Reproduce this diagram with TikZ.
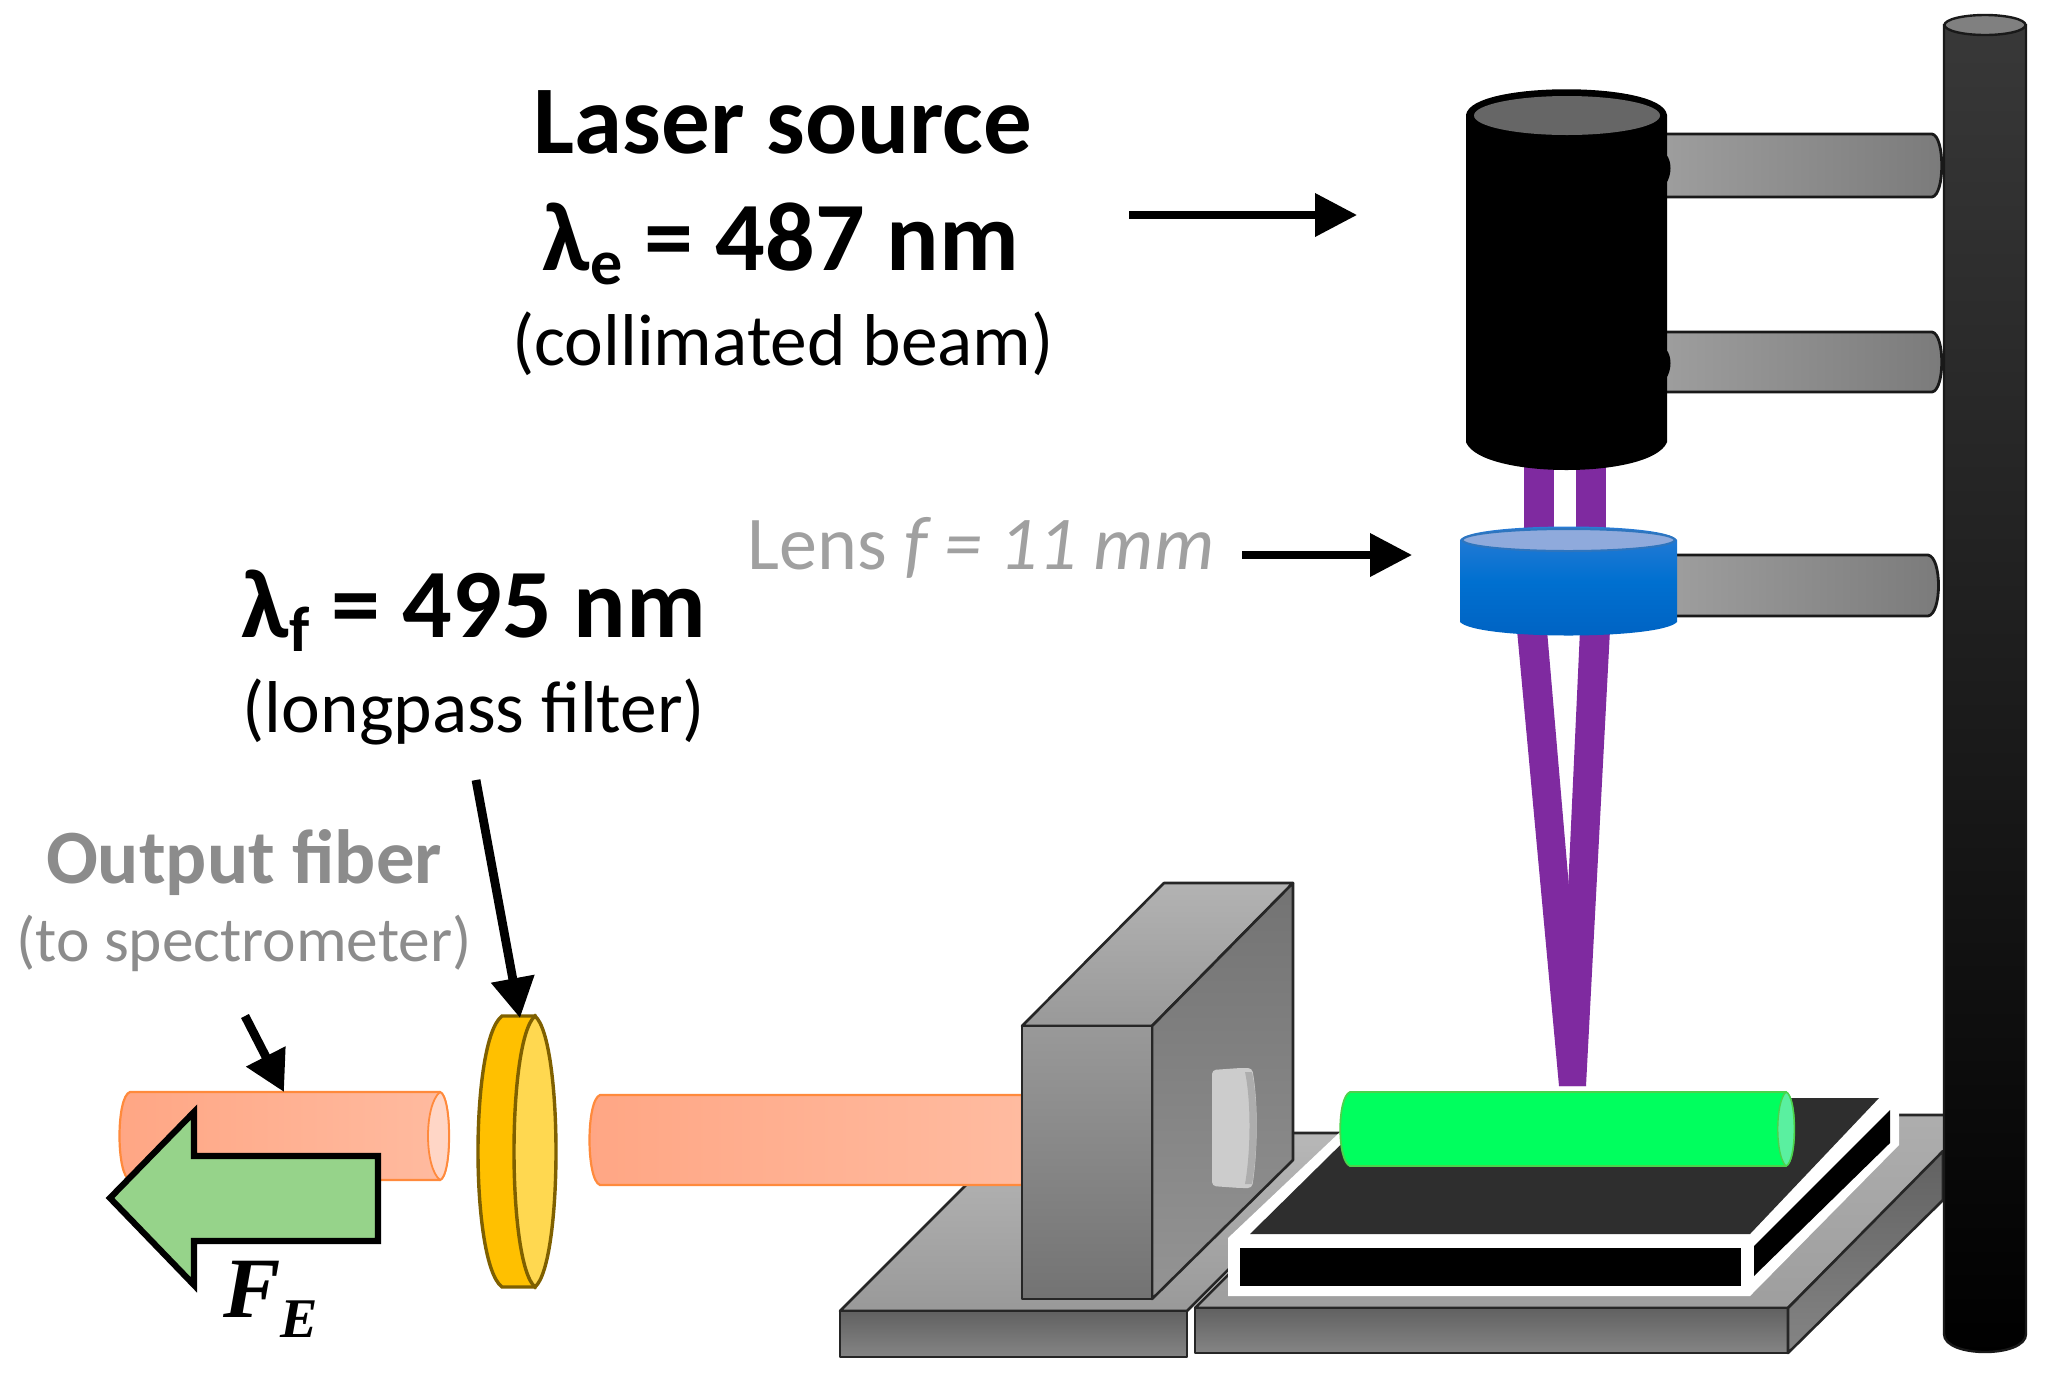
\documentclass[tikz,border=0pt]{standalone}
\usepackage{fontspec}
\setmainfont{Carlito}
\newfontfamily\fefont{Liberation Serif}
\usetikzlibrary{arrows.meta}
\definecolor{beam}{HTML}{7F2AA0}
\definecolor{orangeedge}{HTML}{FF8A3C}
\definecolor{textgray}{HTML}{8C8C8C}
\definecolor{lensgray}{HTML}{A0A0A0}
\definecolor{filteredge}{HTML}{7F6000}
\definecolor{fibL}{HTML}{FFA684}
\definecolor{fibR}{HTML}{FFBBA0}
\tikzset{
  every node/.style={inner sep=0pt,outer sep=0pt,anchor=base},
  big/.style={font=\fontsize{49}{56}\selectfont\bfseries},
  small/.style={font=\fontsize{36.7}{42}\selectfont},
  part/.style={draw=black!85,line width=1.3pt,line join=round},
  arm/.style={draw=black!90,line width=1.4pt,left color=black!38,right color=black!52},
  beamfill/.style={fill=beam},
  pointer/.style={line width=3.6pt,-{Triangle[length=21pt,width=21pt]}},
  pointerb/.style={line width=4.4pt,-{Triangle[length=20pt,width=21pt]}},
}
\begin{document}
\begin{tikzpicture}[x=0.5pt,y=-0.5pt]
\useasboundingbox (0,0) rectangle (2046,1372);

% --- bases
\path[part,top color=black!32,bottom color=black!38] (1195,1308)--(1788,1308)--(1981,1115)--(1388,1115)--cycle;
\path[part,top color=black!62,bottom color=black!48] (1195,1308)--(1788,1308)--(1788,1353)--(1195,1353)--cycle;
\path[part,top color=black!62,bottom color=black!48] (1788,1308)--(1943,1151)--(1943,1200)--(1788,1353)--cycle;
\path[part,top color=black!28,bottom color=black!40] (840,1311)--(1187,1311)--(1365,1133)--(1018,1133)--cycle;
\path[part,top color=black!62,bottom color=black!48] (840,1311)--(1187,1311)--(1187,1357)--(840,1357)--cycle;

% --- sample plate
\fill[white] (1228,1296)--(1750,1296)--(1899,1145)--(1899,1098)--(1376,1098)--(1228,1238)--cycle;
\fill[black!82] (1250,1234)--(1750,1234)--(1879,1098)--(1388,1098)--cycle;
\fill[black] (1240,1248)--(1741,1248)--(1741,1286)--(1240,1286)--cycle;
\fill[black] (1754,1246)--(1890,1110)--(1890,1143)--(1754,1276)--cycle;

% --- orange light, filter side
\path[draw=orangeedge,line width=1.1pt,left color=fibL,right color=fibR]
  (1022,1095)--(600,1095) .. controls (586,1100) and (586,1180) .. (600,1185)--(1022,1185)--cycle;

% --- box
\path[part,top color=black!30,bottom color=black!40] (1022,1026)--(1152,1026)--(1293,883)--(1164,883)--cycle;
\path[part,top color=black!55,bottom color=black!42] (1152,1026)--(1293,883)--(1293,1160)--(1152,1299)--cycle;
\path[part,top color=black!40,bottom color=black!55] (1022,1026)--(1152,1026)--(1152,1299)--(1022,1299)--cycle;
\fill[black!20,rounded corners=2pt] (1212,1070)--(1240,1068)--(1252,1068) .. controls (1258,1100) and (1258,1150) .. (1252,1188)--(1240,1188)--(1212,1186)--cycle;
\fill[black!32] (1245,1072) .. controls (1251,1100) and (1251,1150) .. (1245,1184)--(1252,1184) .. controls (1258,1150) and (1258,1100) .. (1252,1072)--cycle;

% --- excitation beams
\fill[beamfill] (1524,460)--(1554,460)--(1554,535)--(1524,535)--cycle;
\fill[beamfill] (1576,460)--(1606,460)--(1606,535)--(1576,535)--cycle;
\fill[beamfill] (1517,630)--(1547,630)--(1586,1086)--(1559,1086)--cycle;
\fill[beamfill] (1580,630)--(1610,630)--(1586,1086)--(1559,1086)--cycle;

% --- sample rod
\path[draw=black!25!green!70!white,line width=0.9pt,fill={rgb,255:red,0;green,255;blue,94}]
  (1786,1092)--(1350,1092) .. controls (1337,1097) and (1337,1161) .. (1350,1166)--(1786,1166)
  .. controls (1797,1161) and (1797,1097) .. (1786,1092)--cycle;
\path[draw=black!25!green!70!white,line width=0.7pt,fill={rgb,255:red,90;green,240;blue,160}]
  (1786,1092) .. controls (1775,1102) and (1775,1156) .. (1786,1166) .. controls (1797,1161) and (1797,1097) .. (1786,1092)--cycle;

% --- arms
\path[arm] (1660,134)--(1932,134) .. controls (1945,136) and (1945,195) .. (1932,197)--(1660,197)--cycle;
\path[arm] (1660,332)--(1932,332) .. controls (1945,334) and (1945,390) .. (1932,392)--(1660,392)--cycle;
\path[arm] (1670,555)--(1928,555) .. controls (1942,557) and (1942,614) .. (1928,616)--(1670,616)--cycle;

% --- laser head
\path[fill=black,draw=black,line width=1pt] (1467,115) .. controls (1472,82) and (1661,82) .. (1666,115)
  --(1666,442) .. controls (1650,478) and (1483,478) .. (1467,442)--cycle;
\fill[black] (1660,150) .. controls (1674,155) and (1674,180) .. (1660,190)--cycle;
\fill[black] (1660,345) .. controls (1674,350) and (1674,375) .. (1660,385)--cycle;
\fill[black!60] (1567,115.5) ellipse[x radius=93,y radius=19.5];

% --- lens
\path[draw=none,top color={rgb,255:red,46;green,125;blue,214},bottom color={rgb,255:red,0;green,98;blue,194},middle color={rgb,255:red,0;green,112;blue,208}]
  (1460,540) .. controls (1470,522) and (1667,522) .. (1677,540)
  --(1677,622) .. controls (1660,640) and (1477,640) .. (1460,622)--cycle;
\path[fill={rgb,255:red,143;green,170;blue,220},draw={rgb,255:red,46;green,117;blue,190},line width=1pt] (1568.5,540) ellipse[x radius=106,y radius=11];

% --- pillar
\path[draw=black!90,line width=1.2pt,top color=black!78,bottom color=black,shading angle=0]
  (1944,25)--(1944,1334) .. controls (1944,1358) and (2026,1358) .. (2026,1334)--(2026,25)--cycle;
\path[draw=black!90,line width=1.2pt,fill=black!50] (1985,25) ellipse[x radius=40.5,y radius=10];

% --- collection fibre
\path[draw=orangeedge,line width=1.1pt,left color=fibL,right color=fibR]
  (440,1092)--(130,1092) .. controls (116,1096) and (116,1176) .. (130,1180)--(440,1180)
  .. controls (452,1176) and (452,1096) .. (440,1092)--cycle;
\path[draw=orangeedge,line width=0.9pt,fill={rgb,255:red,255;green,214;blue,198}]
  (440,1092) .. controls (424,1105) and (424,1167) .. (440,1180) .. controls (452,1176) and (452,1096) .. (440,1092)--cycle;

% --- filter
\path[draw=filteredge,line width=1.7pt,fill={rgb,255:red,255;green,192;blue,0}]
  (535,1016)--(502,1016) .. controls (470,1040) and (470,1263) .. (502,1287)--(535,1287)--cycle;
\path[draw=filteredge,line width=1.7pt,fill={rgb,255:red,255;green,216;blue,80}]
  (535,1016) .. controls (507,1040) and (507,1263) .. (535,1287) .. controls (563,1263) and (563,1040) .. (535,1016)--cycle;

% --- force arrow
\path[draw=black,line width=3.1pt,miter limit=6,fill={rgb,255:red,150;green,211;blue,138}]
  (110,1198)--(194,1112)--(194,1156)--(378,1156)--(378,1241)--(194,1241)--(194,1285)--cycle;

% --- text
\node[big,font=\fontsize{48.5}{56}\selectfont\bfseries] (lasertitle) at (783,153) {Laser source};
\node[big] (laserlambda) at (781,270) {λ\raisebox{-7pt}{\fontsize{32}{32}\selectfont e} = 487 nm};
\node[small] (lasernote) at (783,365) {(collimated beam)};
\node[font=\fontsize{38}{44}\selectfont,text=lensgray] (lenslabel) at (981,569) {Lens \textit{f = 11 mm}};
\node[big] (filterlambda) at (474,637) {λ\raisebox{-7pt}{\fontsize{32}{32}\selectfont f} = 495 nm};
\node[small] (filternote) at (474,732) {(longpass filter)};
\node[font=\fontsize{38.4}{44}\selectfont\bfseries,text=textgray] (fibertitle) at (244,883) {Output fiber};
\node[font=\fontsize{31.7}{38}\selectfont,text=textgray] (fibernote) at (244,961) {(to spectrometer)};
\node[anchor=base west,font=\fefont\bfseries\itshape\fontsize{43}{50}\selectfont] (forcelabel) at (223,1317) {F\raisebox{-10pt}{\fontsize{28}{28}\selectfont E}};

% --- pointers
\coordinate (laserfrom) at (1129,215);
\coordinate (laserto) at (1357,215);
\coordinate (lensfrom) at (1242,555);
\coordinate (lensto) at (1412,555);
\coordinate (filterfrom) at (476,780);
\coordinate (filterto) at (520,1018);
\coordinate (fibrefrom) at (245,1016);
\coordinate (fibreto) at (284,1092);
\draw[pointer] (laserfrom) -- (laserto);
\draw[pointer] (lensfrom) -- (lensto);
\draw[pointerb] (filterfrom) -- (filterto);
\draw[pointerb] (fibrefrom) -- (fibreto);
\end{tikzpicture}
\end{document}
